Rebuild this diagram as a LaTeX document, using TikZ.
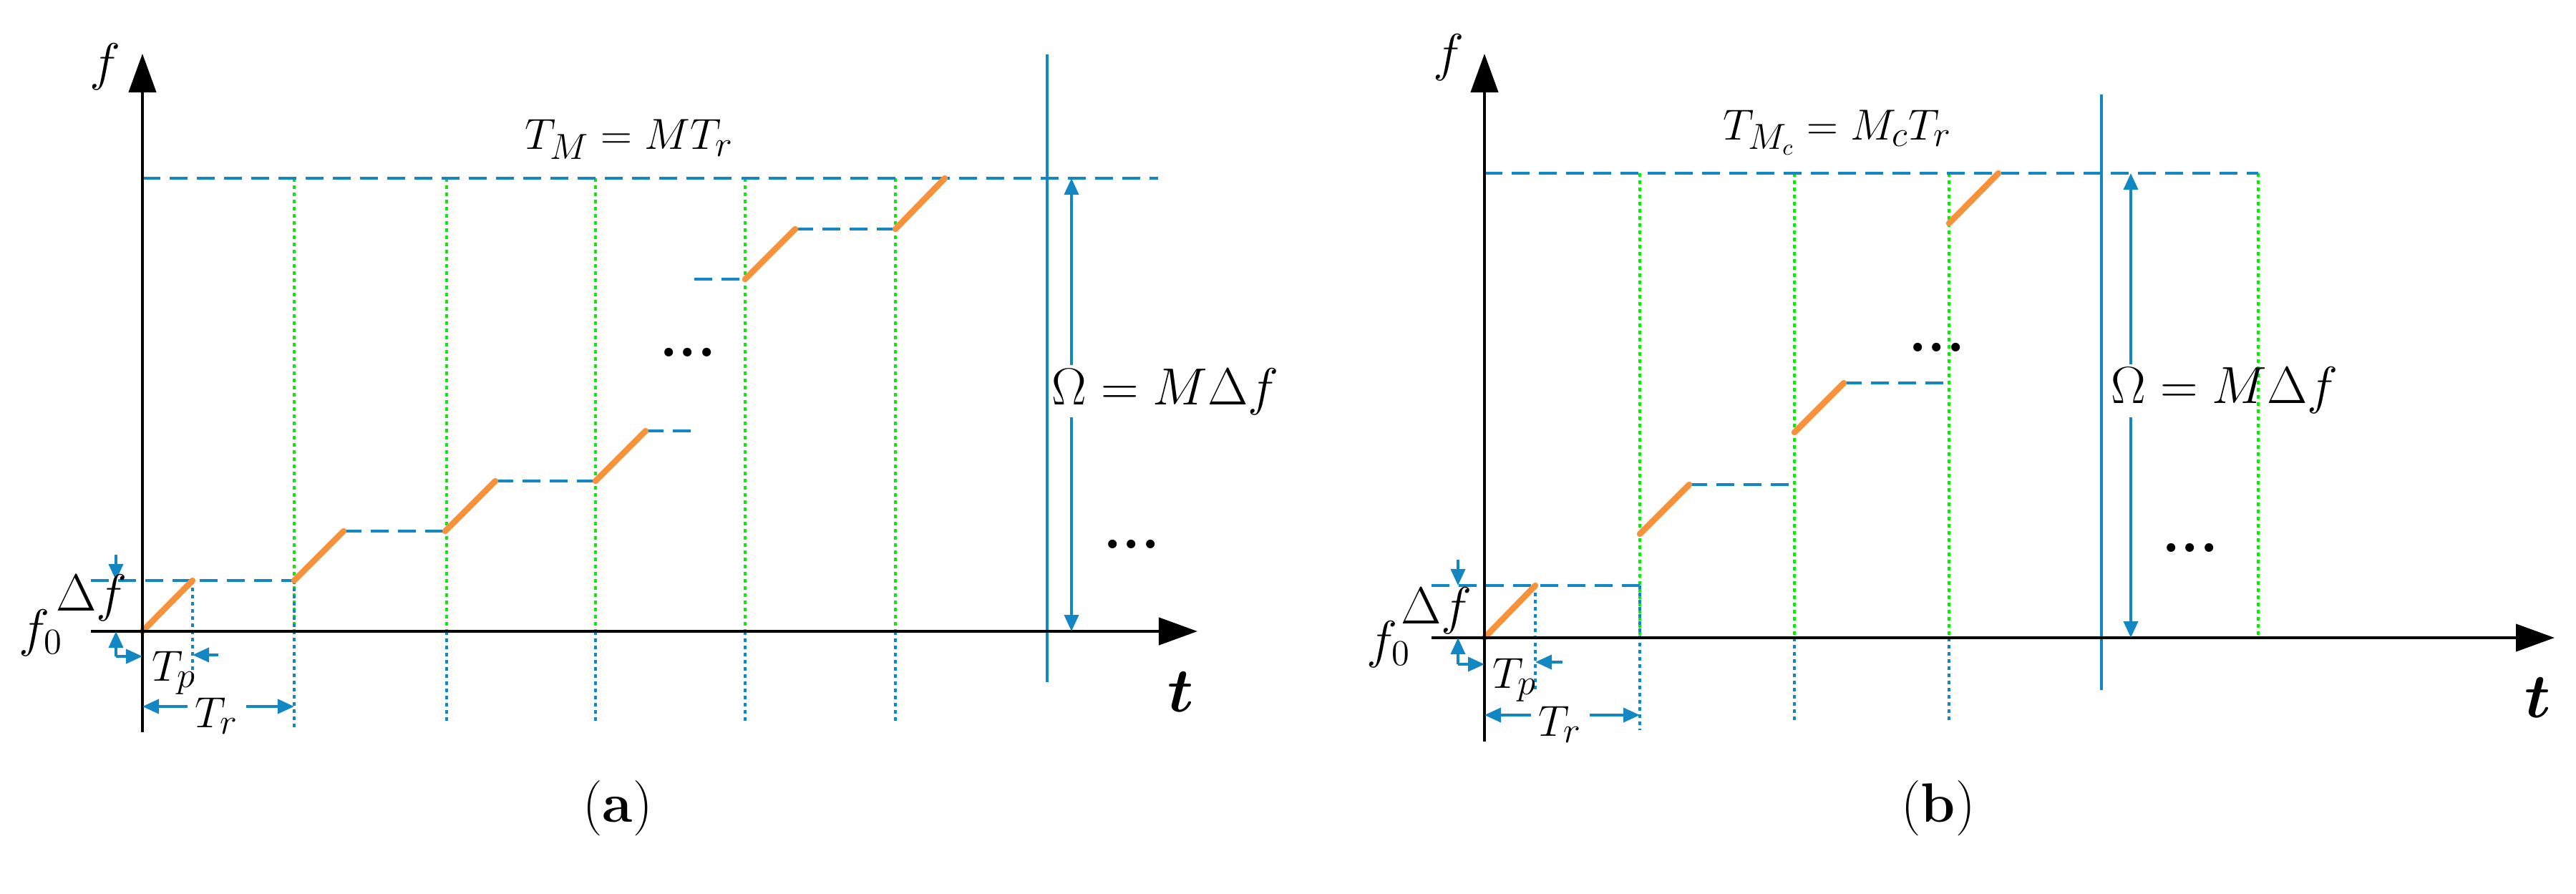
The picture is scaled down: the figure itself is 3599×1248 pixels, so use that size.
\documentclass[tikz,border=0pt]{standalone}
\usetikzlibrary{arrows.meta}
\definecolor{bl}{HTML}{1287C3}
\definecolor{orj}{HTML}{F7923A}
\definecolor{grn}{HTML}{00F000}
\tikzset{
 ax/.style={line width=1.2pt,-{Triangle[length=0.54cm,width=0.38cm]}},
 ramp/.style={orj,line width=2.4pt,line cap=round},
 bdash/.style={bl,line width=1.1pt,dash pattern=on 0.25cm off 0.13cm},
 gdot/.style={grn,line width=0.9pt,dash pattern=on 0.05cm off 0.05cm},
 bdot/.style={bl,line width=0.9pt,dash pattern=on 0.05cm off 0.05cm},
 barr/.style={bl,line width=1.1pt,-{Triangle[length=0.23cm,width=0.2cm]}},
 bdarr/.style={bl,line width=1.1pt,{Triangle[length=0.23cm,width=0.2cm]}-{Triangle[length=0.23cm,width=0.2cm]}},
 bsolid/.style={bl,line width=1.1pt},
 lbl/.style={inner sep=0pt,font=\fontsize{22}{26}\selectfont},
 slbl/.style={inner sep=0pt,font=\fontsize{19}{23}\selectfont},
 blbl/.style={inner sep=0pt,font=\fontsize{27}{30}\selectfont\boldmath},
 dots/.style={inner sep=0pt,font=\fontsize{24}{26}\selectfont\bfseries},
}
\begin{document}
\begin{tikzpicture}[x=0.01cm,y=-0.01cm]
\useasboundingbox (0,0) rectangle (3599,1248);
% ===== panel (a) =====
\foreach \x in {411,624,832,1041,1251} \draw[gdot] (\x,249) -- (\x,882);
\draw[bdot] (411,811) -- (411,1018);
\foreach \x in {624,832,1041,1251} \draw[bdot] (\x,882) -- (\x,1010);
\draw[bdot] (269,811) -- (269,952);
\draw[bdash] (127,811) -- (411,811);
\draw[bdash] (480,742) -- (624,742);
\draw[bdash] (692,672) -- (832,672);
\draw[bdash] (902,602) -- (975,602);
\draw[bdash] (970,390) -- (1041,390);
\draw[bdash] (1111,320) -- (1251,320);
\draw[bdash] (199,249) -- (1618,249);
\draw[ramp] (199,882) -- (269,811);
\draw[ramp] (411,811) -- (480,742);
\draw[ramp] (622,742) -- (692,672);
\draw[ramp] (832,672) -- (902,602);
\draw[ramp] (1041,390) -- (1111,320);
\draw[ramp] (1251,320) -- (1320,249);
\draw[bsolid] (1463,76) -- (1463,953);
\draw[ax] (199,1023) -- (199,75);
\draw[ax] (127,882) -- (1673,882);
\node[lbl] (OmA) at (1628,547) {$\Omega = M\Delta f$};
\coordinate (OtA) at (1497,249); \coordinate (ObA) at (1497,882);
\draw[barr] (1497,510) -- (OtA);
\draw[barr] (1497,583) -- (ObA);
\draw[barr] (162,775) -- (162,811);
\draw[barr] (162,917) -- (162,882);
\draw[barr] (162,917) -- (199,917);
\draw[barr] (305,915) -- (269,915);
\draw[bdarr] (199,987) -- (411,987);
\node[slbl,fill=white,inner xsep=3pt] (TrA) at (303,1000) {$T_r$};
\node[slbl] (TpA) at (243,940) {$T_p$};
\node[lbl] (DfA) at (128,835) {$\Delta f$};
\node[lbl] (f0A) at (57,884) {$f_0$};
\node[lbl] (fA) at (147,93) {$f$};
\node[blbl] (tA) at (1650,967) {$t$};
\node[slbl] (TMA) at (879,195) {$T_M = MT_r$};
\node[dots] at (961,492) {...};
\node[dots] at (1581,760) {...};
\node[lbl] (capA) at (863,1129) {(\textbf{a})};
% ===== panel (b) =====
\foreach \x in {2291,2507,2723,2936,3155} \draw[gdot] (\x,242) -- (\x,891);
\draw[bdot] (2291,818) -- (2291,1020);
\foreach \x in {2507,2723} \draw[bdot] (\x,891) -- (\x,1010);
\draw[bdot] (2145,818) -- (2145,963);
\draw[bdash] (2000,818) -- (2291,818);
\draw[bdash] (2360,677) -- (2507,677);
\draw[bdash] (2576,535) -- (2723,535);
\draw[bdash] (2074,242) -- (3155,242);
\draw[ramp] (2074,891) -- (2145,818);
\draw[ramp] (2291,746) -- (2360,677);
\draw[ramp] (2507,604) -- (2576,535);
\draw[ramp] (2723,312) -- (2792,242);
\draw[bsolid] (2936,132) -- (2936,964);
\draw[ax] (2074,1036) -- (2074,75);
\draw[ax] (2000,891) -- (3569,891);
\node[lbl] (OmB) at (3108,545) {$\Omega = M\Delta f$};
\coordinate (OtB) at (2977,242); \coordinate (ObB) at (2977,891);
\draw[barr] (2977,509) -- (OtB);
\draw[barr] (2977,583) -- (ObB);
\draw[barr] (2037,782) -- (2037,818);
\draw[barr] (2037,928) -- (2037,891);
\draw[barr] (2037,928) -- (2074,928);
\draw[barr] (2183,925) -- (2145,925);
\draw[bdarr] (2074,999) -- (2291,999);
\node[slbl,fill=white,inner xsep=3pt] (TrB) at (2180,1012) {$T_r$};
\node[slbl] (TpB) at (2116,950) {$T_p$};
\node[lbl] (DfB) at (2007,853) {$\Delta f$};
\node[lbl] (f0B) at (1940,900) {$f_0$};
\node[lbl] (fB) at (2024,80) {$f$};
\node[blbl] (tB) at (3546,975) {$t$};
\node[slbl] (TMB) at (2567,185) {$T_{M_c} = M_cT_r$};
\node[dots] at (2706,485) {...};
\node[dots] at (3060,765) {...};
\node[lbl] (capB) at (2708,1129) {(\textbf{b})};
\end{tikzpicture}
\end{document}
